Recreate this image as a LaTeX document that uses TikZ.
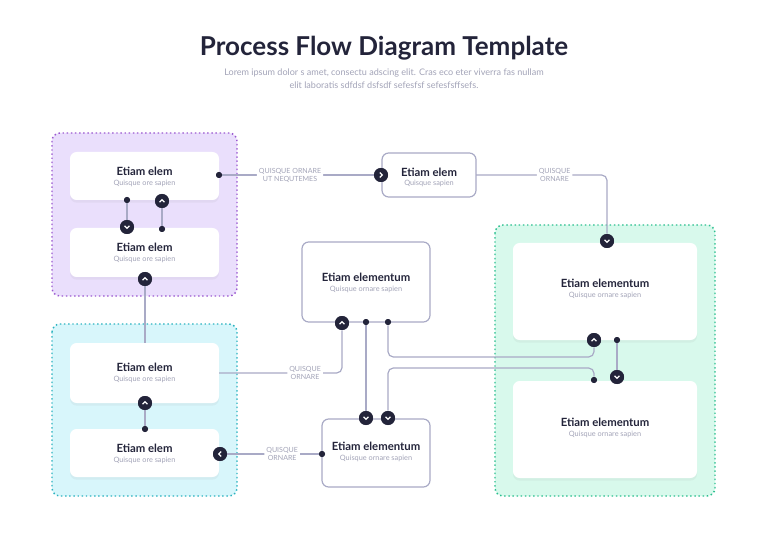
\documentclass[tikz,border=0pt]{standalone}
\usepackage{fontspec}
\setmainfont{Lato}
\usetikzlibrary{positioning,calc,shadows}
\definecolor{navy}{HTML}{23243A}
\definecolor{wire}{HTML}{A9AAC6}
\definecolor{lbl}{HTML}{A3A4B8}
\definecolor{lavfill}{HTML}{EADFFC}
\definecolor{lavline}{HTML}{9B59D0}
\definecolor{cyfill}{HTML}{D8F6FB}
\definecolor{cyline}{HTML}{2BB3C0}
\definecolor{gnfill}{HTML}{D8F9EC}
\definecolor{gnline}{HTML}{2BBF8F}
\tikzset{
 group/.style={draw, dotted, line width=1.1pt, rounded corners=6pt},
 card/.style={fill=white, rounded corners=5pt, drop shadow={opacity=0.08,shadow xshift=0pt,shadow yshift=-2pt}},
 frame/.style={draw=wire, fill=white, line width=0.9pt, rounded corners=5pt},
 head/.style={font=\bfseries\fontsize{8.5}{10}\selectfont, text=navy},
 sub/.style={font=\fontsize{5.5}{6.5}\selectfont, text=lbl},
 note/.style={font=\fontsize{5.3}{6}\selectfont, text=lbl, fill=white, align=center, inner sep=1.5pt},
 wr/.style={draw=wire, line width=0.9pt, rounded corners=4pt},
 dot/.style={circle, fill=navy, inner sep=0pt, minimum size=4.5pt},
 btn/.style={circle, fill=navy, inner sep=0pt, minimum size=10.5pt},
 dn/.style={btn, path picture={\draw[white,line width=0.9pt] ($(path picture bounding box.center)+(-1.8pt,0.9pt)$) -- ++(1.8pt,-1.8pt) -- ++(1.8pt,1.8pt);}},
 up/.style={btn, path picture={\draw[white,line width=0.9pt] ($(path picture bounding box.center)+(-1.8pt,-0.9pt)$) -- ++(1.8pt,1.8pt) -- ++(1.8pt,-1.8pt);}},
 rt/.style={btn, path picture={\draw[white,line width=0.9pt] ($(path picture bounding box.center)+(-0.9pt,1.8pt)$) -- ++(1.8pt,-1.8pt) -- ++(-1.8pt,-1.8pt);}},
 lf/.style={btn, path picture={\draw[white,line width=0.9pt] ($(path picture bounding box.center)+(0.9pt,1.8pt)$) -- ++(-1.8pt,-1.8pt) -- ++(1.8pt,-1.8pt);}},
}
\begin{document}
\begin{tikzpicture}[x=0.75pt,y=-0.75pt]
\useasboundingbox[fill=white] (0,0) rectangle (768,549);
% heading
\node[font=\bfseries\fontsize{19.5}{22}\selectfont, text=navy] (title) at (384,48) {Process Flow Diagram Template};
\node[font=\fontsize{6.8}{10}\selectfont, text=lbl, align=center] (subtitle) at (384,79) {Lorem ipsum dolor s amet, consectu adscing elit. Cras eco eter viverra fas nullam\\elit laboratis sdfdsf dsfsdf sefesfsf sefesfsffsefs.};
% groups
\draw[group, draw=lavline, fill=lavfill] (52,133) rectangle (237,296);
\draw[group, draw=cyline, fill=cyfill] (52,324) rectangle (237,496);
\draw[group, draw=gnline, fill=gnfill] (495,225) rectangle (715,496);
% cards
\path[card] (70,152) rectangle (219,200); \node[head] (a1) at (144.5,171) {Etiam elem}; \node[sub] at (144.5,183) {Quisque ore sapien};
\path[card] (70,228) rectangle (219,277); \node[head] (a2) at (144.5,247) {Etiam elem}; \node[sub] at (144.5,259) {Quisque ore sapien};
\path[card] (70,343) rectangle (219,403); \node[head] (b1) at (144.5,367) {Etiam elem}; \node[sub] at (144.5,379) {Quisque ore sapien};
\path[card] (70,429) rectangle (219,477); \node[head] (b2) at (144.5,448) {Etiam elem}; \node[sub] at (144.5,460) {Quisque ore sapien};
\path[card] (513,243) rectangle (697,340); \node[head] (g1) at (605,283) {Etiam elementum}; \node[sub] at (605,295) {Quisque ornare sapien};
\path[card] (513,381) rectangle (697,478); \node[head] (g2) at (605,422) {Etiam elementum}; \node[sub] at (605,434) {Quisque ornare sapien};
\draw[frame] (382,153) rectangle (476,197); \node[head] (s1) at (429,172) {Etiam elem}; \node[sub] at (429,183) {Quisque sapien};
\draw[frame] (302,242) rectangle (430,322); \node[head] (c1) at (366,277) {Etiam elementum}; \node[sub] at (366,289) {Quisque ornare sapien};
\draw[frame] (322,419) rectangle (430,487); \node[head] (c2) at (376,446) {Etiam elementum}; \node[sub] at (376,458) {Quisque ornare sapien};
% anchors
\node[dot] (p1) at (219,175) {}; \node[rt] (q1) at (381,175) {};
\coordinate (p2) at (476,175); \node[dn] (q2) at (607,241) {};
\node[dot] (p3) at (127,200) {}; \node[dn] (q3) at (127,227) {};
\node[dot] (p4) at (162,229) {}; \node[up] (q4) at (162,201) {};
\node[up] (q5) at (145,279) {}; \coordinate (p5) at (145,343);
\node[up] (q6) at (145,403) {}; \node[dot] (p6) at (145,429) {};
\coordinate (p7) at (219,373); \node[up] (q7) at (342,323) {};
\node[dot] (p8) at (322,454) {}; \node[lf] (q8) at (220,454) {};
\node[dot] (p9) at (366,322) {}; \node[dn] (q9) at (366,418) {};
\node[dot] (p10) at (388,322) {}; \node[up] (q10) at (594,340) {};
\node[dn] (q11) at (388,418) {}; \node[dot] (p11) at (594,380) {};
\node[dot] (p12) at (617,340) {}; \node[dn] (q12) at (617,377) {};
% wires
\draw[wr] (p1) -- (q1) node[note, midway, xshift=-6pt] {QUISQUE ORNARE\\UT NEQUTEMES};
\draw[wr] (p2) -| (q2) node[note, pos=0.3] {QUISQUE\\ORNARE};
\draw[wr] (p3) -- (q3);
\draw[wr] (p4) -- (q4);
\draw[wr] (q5) -- (p5);
\draw[wr] (q6) -- (p6);
\draw[wr] (p7) -| (q7) node[note, pos=0.35] {QUISQUE\\ORNARE};
\draw[wr] (p8) -- (q8) node[note, pos=0.4] {QUISQUE\\ORNARE};
\draw[wr] (p9) -- (q9);
\draw[wr] (p10) -- ($(p10)+(0,35)$) -- ($(q10|-p10)+(0,35)$) -- (q10);
\draw[wr] (q11) -- ($(q11|-p11)+(0,-12)$) -- ($(p11)+(0,-12)$) -- (p11);
\draw[wr] (p12) -- (q12);
% buttons on top
\foreach \b/\s in {q1/rt,q2/dn,q3/dn,q4/up,q5/up,q6/up,q7/up,q8/lf,q9/dn,q10/up,q11/dn,q12/dn} \node[\s] at (\b) {};
\foreach \d in {p1,p3,p4,p6,p8,p9,p10,p11,p12} \node[dot] at (\d) {};
\end{tikzpicture}
\end{document}
